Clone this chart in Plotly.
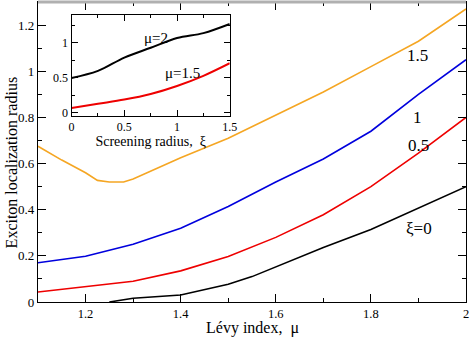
import plotly.graph_objects as go

# Main panel data: localization radius vs Levy index for several screening radii
mu_xi0 = [1.25, 1.3, 1.4, 1.5, 1.55, 1.6, 1.7, 1.8, 1.9, 2.0]
r_xi0 = [0.0, 0.016, 0.03, 0.077, 0.11, 0.152, 0.236, 0.314, 0.408, 0.5]

mu_all = [1.1, 1.2, 1.3, 1.4, 1.5, 1.6, 1.7, 1.8, 1.9, 2.0]
r_xi05 = [0.043, 0.065, 0.09, 0.135, 0.197, 0.28, 0.378, 0.5, 0.645, 0.80]
r_xi1 = [0.17, 0.198, 0.25, 0.32, 0.414, 0.52, 0.62, 0.74, 0.90, 1.05]

mu_xi15 = [1.1, 1.15, 1.2, 1.225, 1.25, 1.28, 1.3, 1.4, 1.5, 1.6, 1.7, 1.8, 1.9, 2.0]
r_xi15 = [0.675, 0.615, 0.56, 0.527, 0.52, 0.52, 0.533, 0.625, 0.71, 0.81, 0.91, 1.02, 1.13, 1.27]

# Inset data: radius vs screening radius
xi_in = [0.0, 0.25, 0.5, 0.75, 1.0, 1.25, 1.5]
r_mu2 = [0.5, 0.6, 0.79, 0.93, 1.07, 1.14, 1.27]
r_mu15 = [0.07, 0.13, 0.19, 0.27, 0.385, 0.53, 0.71]

FONT = "Liberation Serif, Times New Roman, serif"

fig = go.Figure()
lw = 1.6
fig.add_trace(go.Scatter(x=mu_xi0, y=r_xi0, mode="lines", line=dict(color="black", width=lw), showlegend=False))
fig.add_trace(go.Scatter(x=mu_all, y=r_xi05, mode="lines", line=dict(color="#ee0000", width=lw), showlegend=False))
fig.add_trace(go.Scatter(x=mu_all, y=r_xi1, mode="lines", line=dict(color="#0000dd", width=lw), showlegend=False))
fig.add_trace(go.Scatter(x=mu_xi15, y=r_xi15, mode="lines", line=dict(color="#f5a623", width=lw), showlegend=False))

fig.add_trace(go.Scatter(x=xi_in, y=r_mu2, mode="lines", line=dict(color="black", width=2, shape="spline"),
                         xaxis="x2", yaxis="y2", showlegend=False))
fig.add_trace(go.Scatter(x=xi_in, y=r_mu15, mode="lines", line=dict(color="#ee0000", width=2, shape="spline"),
                         xaxis="x2", yaxis="y2", showlegend=False))

axis_common = dict(showgrid=False, zeroline=False, showline=True, linecolor="black", linewidth=1.2,
                   ticks="inside", tickcolor="black", mirror="ticks")

H = 301  # plot-area height in px
fig.update_layout(
    width=474, height=337,
    margin=dict(l=38, r=3, t=1, b=35),
    paper_bgcolor="white", plot_bgcolor="white",
    font=dict(family=FONT, color="black"),
    xaxis=dict(**axis_common, range=[1.1, 2.0], tickvals=[1.2, 1.4, 1.6, 1.8, 2.0],
               ticktext=["1.2", "1.4", "1.6", "1.8", "2"], ticklen=8, tickwidth=1,
               tickfont=dict(size=12.5, family=FONT),
               minor=dict(tickvals=[1.3, 1.5, 1.7, 1.9], ticklen=4, ticks="inside", tickcolor="black")),
    yaxis=dict(**axis_common, range=[0, 1.3], tickvals=[0, 0.2, 0.4, 0.6, 0.8, 1.0, 1.2],
               ticktext=["0", "0.2", "0.4", "0.6", "0.8", "1", "1.2"], ticklen=8, tickwidth=1,
               tickfont=dict(size=13, family=FONT),
               minor=dict(tickvals=[0.1, 0.3, 0.5, 0.7, 0.9, 1.1], ticklen=4, ticks="inside", tickcolor="black")),
    xaxis2=dict(**axis_common, domain=[0.0785, 0.448], anchor="y2", range=[0, 1.5],
                tickvals=[0, 0.5, 1, 1.5], ticktext=["0", "0.5", "1", "1.5"], ticklen=6, tickwidth=1,
                tickfont=dict(size=12, family=FONT),
                minor=dict(tickvals=[0.25, 0.75, 1.25], ticklen=3, ticks="inside", tickcolor="black"),
                title=dict(text="Screening radius,  ξ", font=dict(size=14, family=FONT), standoff=0)),
    yaxis2=dict(**axis_common, domain=[0.621, 0.957], anchor="x2", range=[-0.04, 1.4],
                tickvals=[0, 0.5, 1], ticktext=["0", "0.5", "1"], ticklen=6, tickwidth=1,
                tickfont=dict(size=12, family=FONT),
                minor=dict(tickvals=[0.25, 0.75, 1.25], ticklen=3, ticks="inside", tickcolor="black")),
)

# gray top border (as in the reference)
fig.add_shape(type="line", xref="paper", yref="paper", x0=0, x1=1, y0=1, y1=1,
              line=dict(color="#b0b0b0", width=3), layer="above")

# axis titles as annotations for precise placement
fig.add_annotation(x=1.55, y=-36 / H, xref="x", yref="paper", yanchor="bottom", text="Lévy index,  μ",
                   showarrow=False, borderpad=0, font=dict(size=16, family=FONT, color="black"))
fig.add_annotation(x=-37 / 433, y=(302 - 162) / H, xref="paper", yref="paper", xanchor="left",
                   text="Exciton localization radius", textangle=-90, showarrow=False,
                   font=dict(size=16, family=FONT, color="black"))

# curve labels
labels_main = [(1.897, 1.067, "1.5"), (1.897, 0.80, "1"), (1.9, 0.68, "0.5"), (1.902, 0.317, "ξ=0")]
for x, y, t in labels_main:
    fig.add_annotation(x=x, y=y, xref="x", yref="y", text=t, showarrow=False,
                       font=dict(size=17, family=FONT, color="black"))
fig.add_annotation(x=0.8, y=1.07, xref="x2", yref="y2", text="μ=2", showarrow=False,
                   font=dict(size=15, family=FONT, color="black"))
fig.add_annotation(x=1.05, y=0.57, xref="x2", yref="y2", text="μ=1.5", showarrow=False,
                   font=dict(size=15, family=FONT, color="black"))

fig.write_html("out.html")
